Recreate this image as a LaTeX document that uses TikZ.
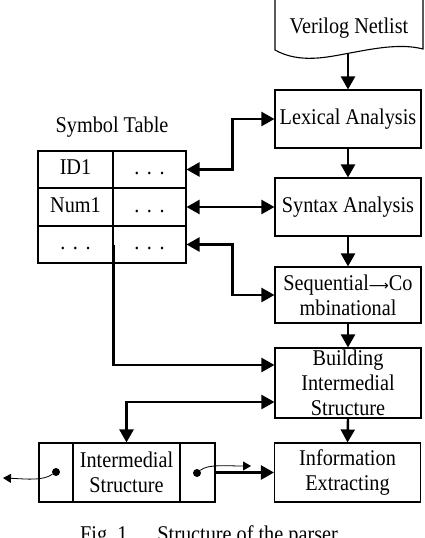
\documentclass[tikz,border=0pt]{standalone}
\usepackage{fontspec}
\setmainfont{Liberation Serif}[FakeStretch=0.9]
\newfontfamily\arrowfont{DejaVu Sans}
\usetikzlibrary{arrows.meta,calc}
\newcommand{\bigarrow}{{\arrowfont\fontsize{14}{14}\selectfont ⟶}}
\begin{document}
\begin{tikzpicture}[x=1pt,y=-1pt,
  txt/.style={font=\fontsize{22.5}{25}\selectfont},
  box/.style={draw,line width=1.1pt,minimum width=146pt,align=center,inner sep=0pt,txt},
  cell/.style={draw,line width=1.1pt,inner sep=0pt,align=center,txt,text height=14pt,text depth=4pt},
  flow/.style={line width=2.4pt,-{Triangle[length=13pt,width=14pt]}},
  flowb/.style={line width=2.4pt,{Triangle[length=13pt,width=14pt]}-{Triangle[length=13pt,width=14pt]}},
  thinarr/.style={line width=0.8pt,-{Triangle[length=8pt,width=9pt]}},
  dot/.style={circle,fill,inner sep=0pt,minimum size=8pt}]
\useasboundingbox (0,0) rectangle (424,538);

% Verilog netlist (document shape)
\draw[line width=1.1pt] (275,-3) -- (275,50) .. controls (300,64) and (328,57) .. (350,53)
  .. controls (372,49) and (400,43) .. (423,49) -- (423,-3);
\node[txt] (net) at (349,28) {Verilog Netlist};
\coordinate (netb) at (348,54);

% right column
\node[box,minimum height=58pt] (lex) at (348,119) {Lexical Analysis};
\node[box,minimum height=58pt] (syn) at (348,207) {Syntax Analysis};
\node[box,minimum height=56pt] (seq) at (348,295) {Sequential\bigarrow Co\\mbinational};
\node[box,minimum height=70pt] (bld) at (348,383) {Building\\Intermedial\\Structure};
\node[box,minimum height=59pt] (inf) at (347.5,472.5) {Information\\Extracting};

\draw[flow] (netb) -- (lex.north);
\draw[flow] (lex.south) -- (syn.north);
\draw[flow] (syn.south) -- (seq.north);
\draw[flow] (seq.south) -- (bld.north);
\draw[flow] (bld.south) -- (inf.north);

% symbol table
\node[txt] (stl) at (112,127) {Symbol Table};
\node[cell,minimum width=75pt,minimum height=37pt] (a1) at (75.5,169.5) {ID1};
\node[cell,minimum width=73pt,minimum height=37pt] (b1) at (149.5,169.5) {.\,\,.\,\,.};
\node[cell,minimum width=75pt,minimum height=38pt] (a2) at (75.5,207) {Num1};
\node[cell,minimum width=73pt,minimum height=38pt] (b2) at (149.5,207) {.\,\,.\,\,.};
\node[cell,minimum width=75pt,minimum height=37pt] (a3) at (75.5,244.5) {.\,\,.\,\,.};
\node[cell,minimum width=73pt,minimum height=37pt] (b3) at (149.5,244.5) {.\,\,.\,\,.};

\draw[flowb] (b1.east) -- ++(46,0) |- (lex.west);
\draw[flowb] (b2.east) -- (syn.west);
\draw[flowb] (b3.east) -- ++(46,0) |- (seq.west);
\draw[flow] (a3.east) |- ($(bld.west)+(0,-18)$);

% intermedial structure
\node[draw,line width=1.1pt,inner sep=0pt,align=center,txt,minimum width=107pt,minimum height=59pt] (ims) at (126.5,472.5) {Intermedial\\Structure};
\node[draw,line width=1.1pt,minimum width=34pt,minimum height=59pt] (imsL) at (56,472.5) {};
\node[draw,line width=1.1pt,minimum width=35pt,minimum height=59pt] (imsR) at (197.5,472.5) {};
\node[dot] (dl) at (56,472) {};
\node[dot] (dr) at (197,473) {};
\coordinate (endl) at (3,478);
\coordinate (endr) at (251,466);

\draw[flowb] (ims.north) |- ($(bld.west)+(0,19)$);
\draw[flow] (imsR.east) -- (inf.west);
\draw[thinarr] (dl) .. controls (42,481) and (28,479) .. (endl);
\draw[thinarr] (dr) .. controls (208,464) and (225,466) .. (endr);

% caption
\node[txt,anchor=base] (cap) at (209,541) {Fig.\ 1\hspace{30pt}Structure of the parser};
\end{tikzpicture}
\end{document}
